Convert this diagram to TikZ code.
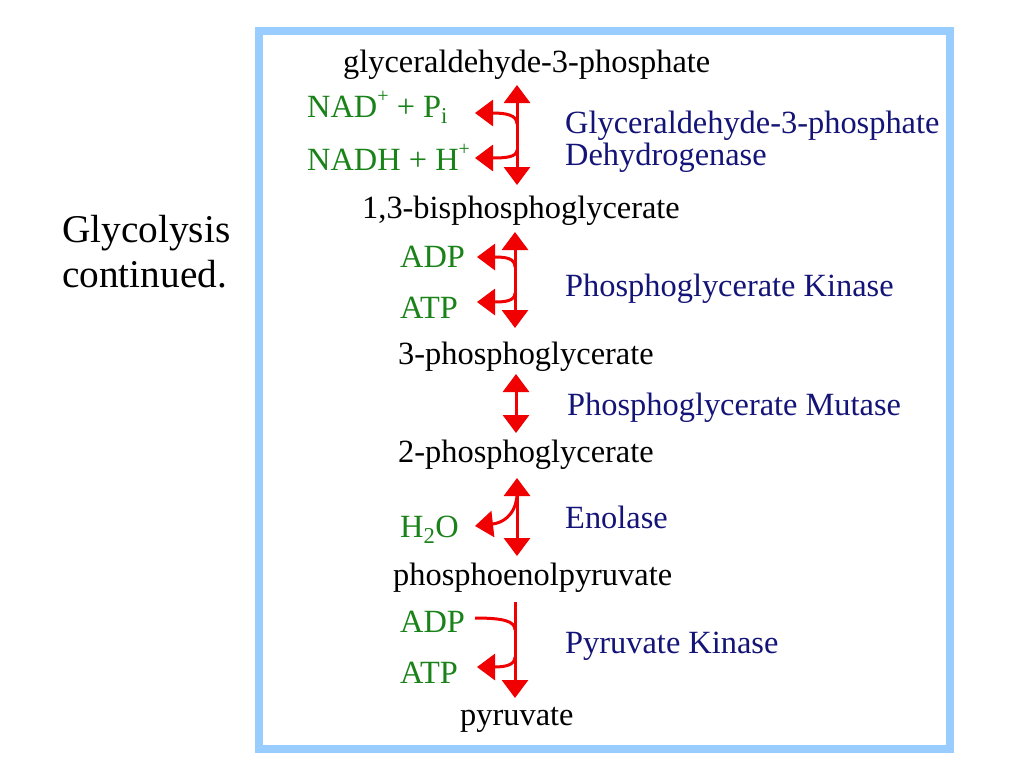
\documentclass[tikz,border=0pt]{standalone}
\usepackage{fontspec}
\setmainfont{Liberation Serif}
\usetikzlibrary{arrows.meta}
\definecolor{framecol}{RGB}{153,204,255}
\definecolor{molgreen}{RGB}{25,130,25}
\definecolor{enzblue}{RGB}{20,20,120}
\definecolor{arrred}{RGB}{240,0,0}
\tikzset{
  txt/.style={anchor=base west, inner sep=0pt, font=\fontsize{32.4}{38}\selectfont},
  mol/.style={txt, text=black},
  cof/.style={txt, text=molgreen},
  enz/.style={txt, text=enzblue},
  ttl/.style={anchor=base west, inner sep=0pt, font=\fontsize{39.3}{45}\selectfont},
  rx/.style={draw=arrred, line width=3pt, arrows={-Triangle[width=26pt,length=18pt]}},
  rxboth/.style={draw=arrred, line width=3pt, arrows={Triangle[width=26pt,length=18pt]-Triangle[width=26pt,length=18pt]}},
  rxline/.style={draw=arrred, line width=3pt},
}
\newcommand{\supsm}[1]{\raisebox{0.45em}{\fontsize{20}{20}\selectfont #1}}
\begin{document}
\begin{tikzpicture}[x=1pt,y=-1pt]
\useasboundingbox (0,0) rectangle (1024,768);
\fill[white] (0,0) rectangle (1024,768);
\draw[framecol, line width=8pt] (259,31) rectangle (950,749);

% title
\node[ttl] (t1) at (62,242) {Glycolysis};
\node[ttl] (t2) at (62,287) {continued.};

% molecules
\node[mol] (m1) at (343,72) {glyceraldehyde-3-phosphate};
\node[mol] (m2) at (362,218) {1,3-bisphosphoglycerate};
\node[mol] (m3) at (398,364) {3-phosphoglycerate};
\node[mol] (m4) at (398,462) {2-phosphoglycerate};
\node[mol] (m5) at (393,585) {phosphoenolpyruvate};
\node[mol] (m6) at (460,725) {pyruvate};

% cofactors
\node[cof] (c1) at (307,117) {NAD\supsm{+} + P\textsubscript{i}};
\node[cof] (c2) at (307,170) {NADH + H\supsm{+}};
\node[cof] (c3) at (400,267) {ADP};
\node[cof] (c4) at (400,318) {ATP};
\node[cof] (c5) at (400,537) {H\textsubscript{2}O};
\node[cof] (c6) at (400,632) {ADP};
\node[cof] (c7) at (400,683) {ATP};

% enzymes
\node[enz] (e1) at (565,133) {Glyceraldehyde-3-phosphate};
\node[enz] (e2) at (565,165) {Dehydrogenase};
\node[enz] (e3) at (565,296) {Phosphoglycerate Kinase};
\node[enz] (e4) at (567,415) {Phosphoglycerate Mutase};
\node[enz] (e5) at (565,528) {Enolase};
\node[enz] (e6) at (565,653) {Pyruvate Kinase};

% arrow 1
\coordinate (a1t) at (517,85);
\coordinate (a1b) at (517,185);
\coordinate (a1j1) at (517,124);
\coordinate (a1p1) at (475,113);
\coordinate (a1j2) at (517,150);
\coordinate (a1p2) at (475,158);
\draw[rxboth] (a1t) -- (a1b);
\draw[rx] (a1j1) .. controls (517,115) and (506,113) .. (a1p1);
\draw[rx] (a1j2) .. controls (517,157) and (506,158) .. (a1p2);

% arrow 2
\coordinate (a2t) at (515,232);
\coordinate (a2b) at (515,328);
\coordinate (a2j1) at (515,267);
\coordinate (a2p1) at (477,257);
\coordinate (a2j2) at (515,293);
\coordinate (a2p2) at (477,302);
\draw[rxboth] (a2t) -- (a2b);
\draw[rx] (a2j1) .. controls (515,258) and (505,257) .. (a2p1);
\draw[rx] (a2j2) .. controls (515,301) and (505,302) .. (a2p2);

% arrow 3 (mutase)
\coordinate (a3t) at (516,374);
\coordinate (a3b) at (516,433);
\draw[rxboth] (a3t) -- (a3b);

% arrow 4 (enolase)
\coordinate (a4t) at (517,478);
\coordinate (a4b) at (517,556);
\coordinate (a4j) at (517,496);
\coordinate (a4p) at (475,526);
\draw[rxboth] (a4t) -- (a4b);
\draw[rx] (a4j) .. controls (515,516) and (502,523) .. (a4p);

% arrow 5 (pyruvate kinase)
\coordinate (a5t) at (515,602);
\coordinate (a5b) at (515,698);
\coordinate (a5s) at (475,618);
\coordinate (a5j1) at (515,630);
\coordinate (a5j2) at (515,657);
\coordinate (a5p) at (477,667);
\draw[rx] (a5t) -- (a5b);
\draw[rxline] (a5s) .. controls (503,618) and (515,621) .. (a5j1);
\draw[rx] (a5j2) .. controls (515,665) and (505,667) .. (a5p);
\end{tikzpicture}
\end{document}
